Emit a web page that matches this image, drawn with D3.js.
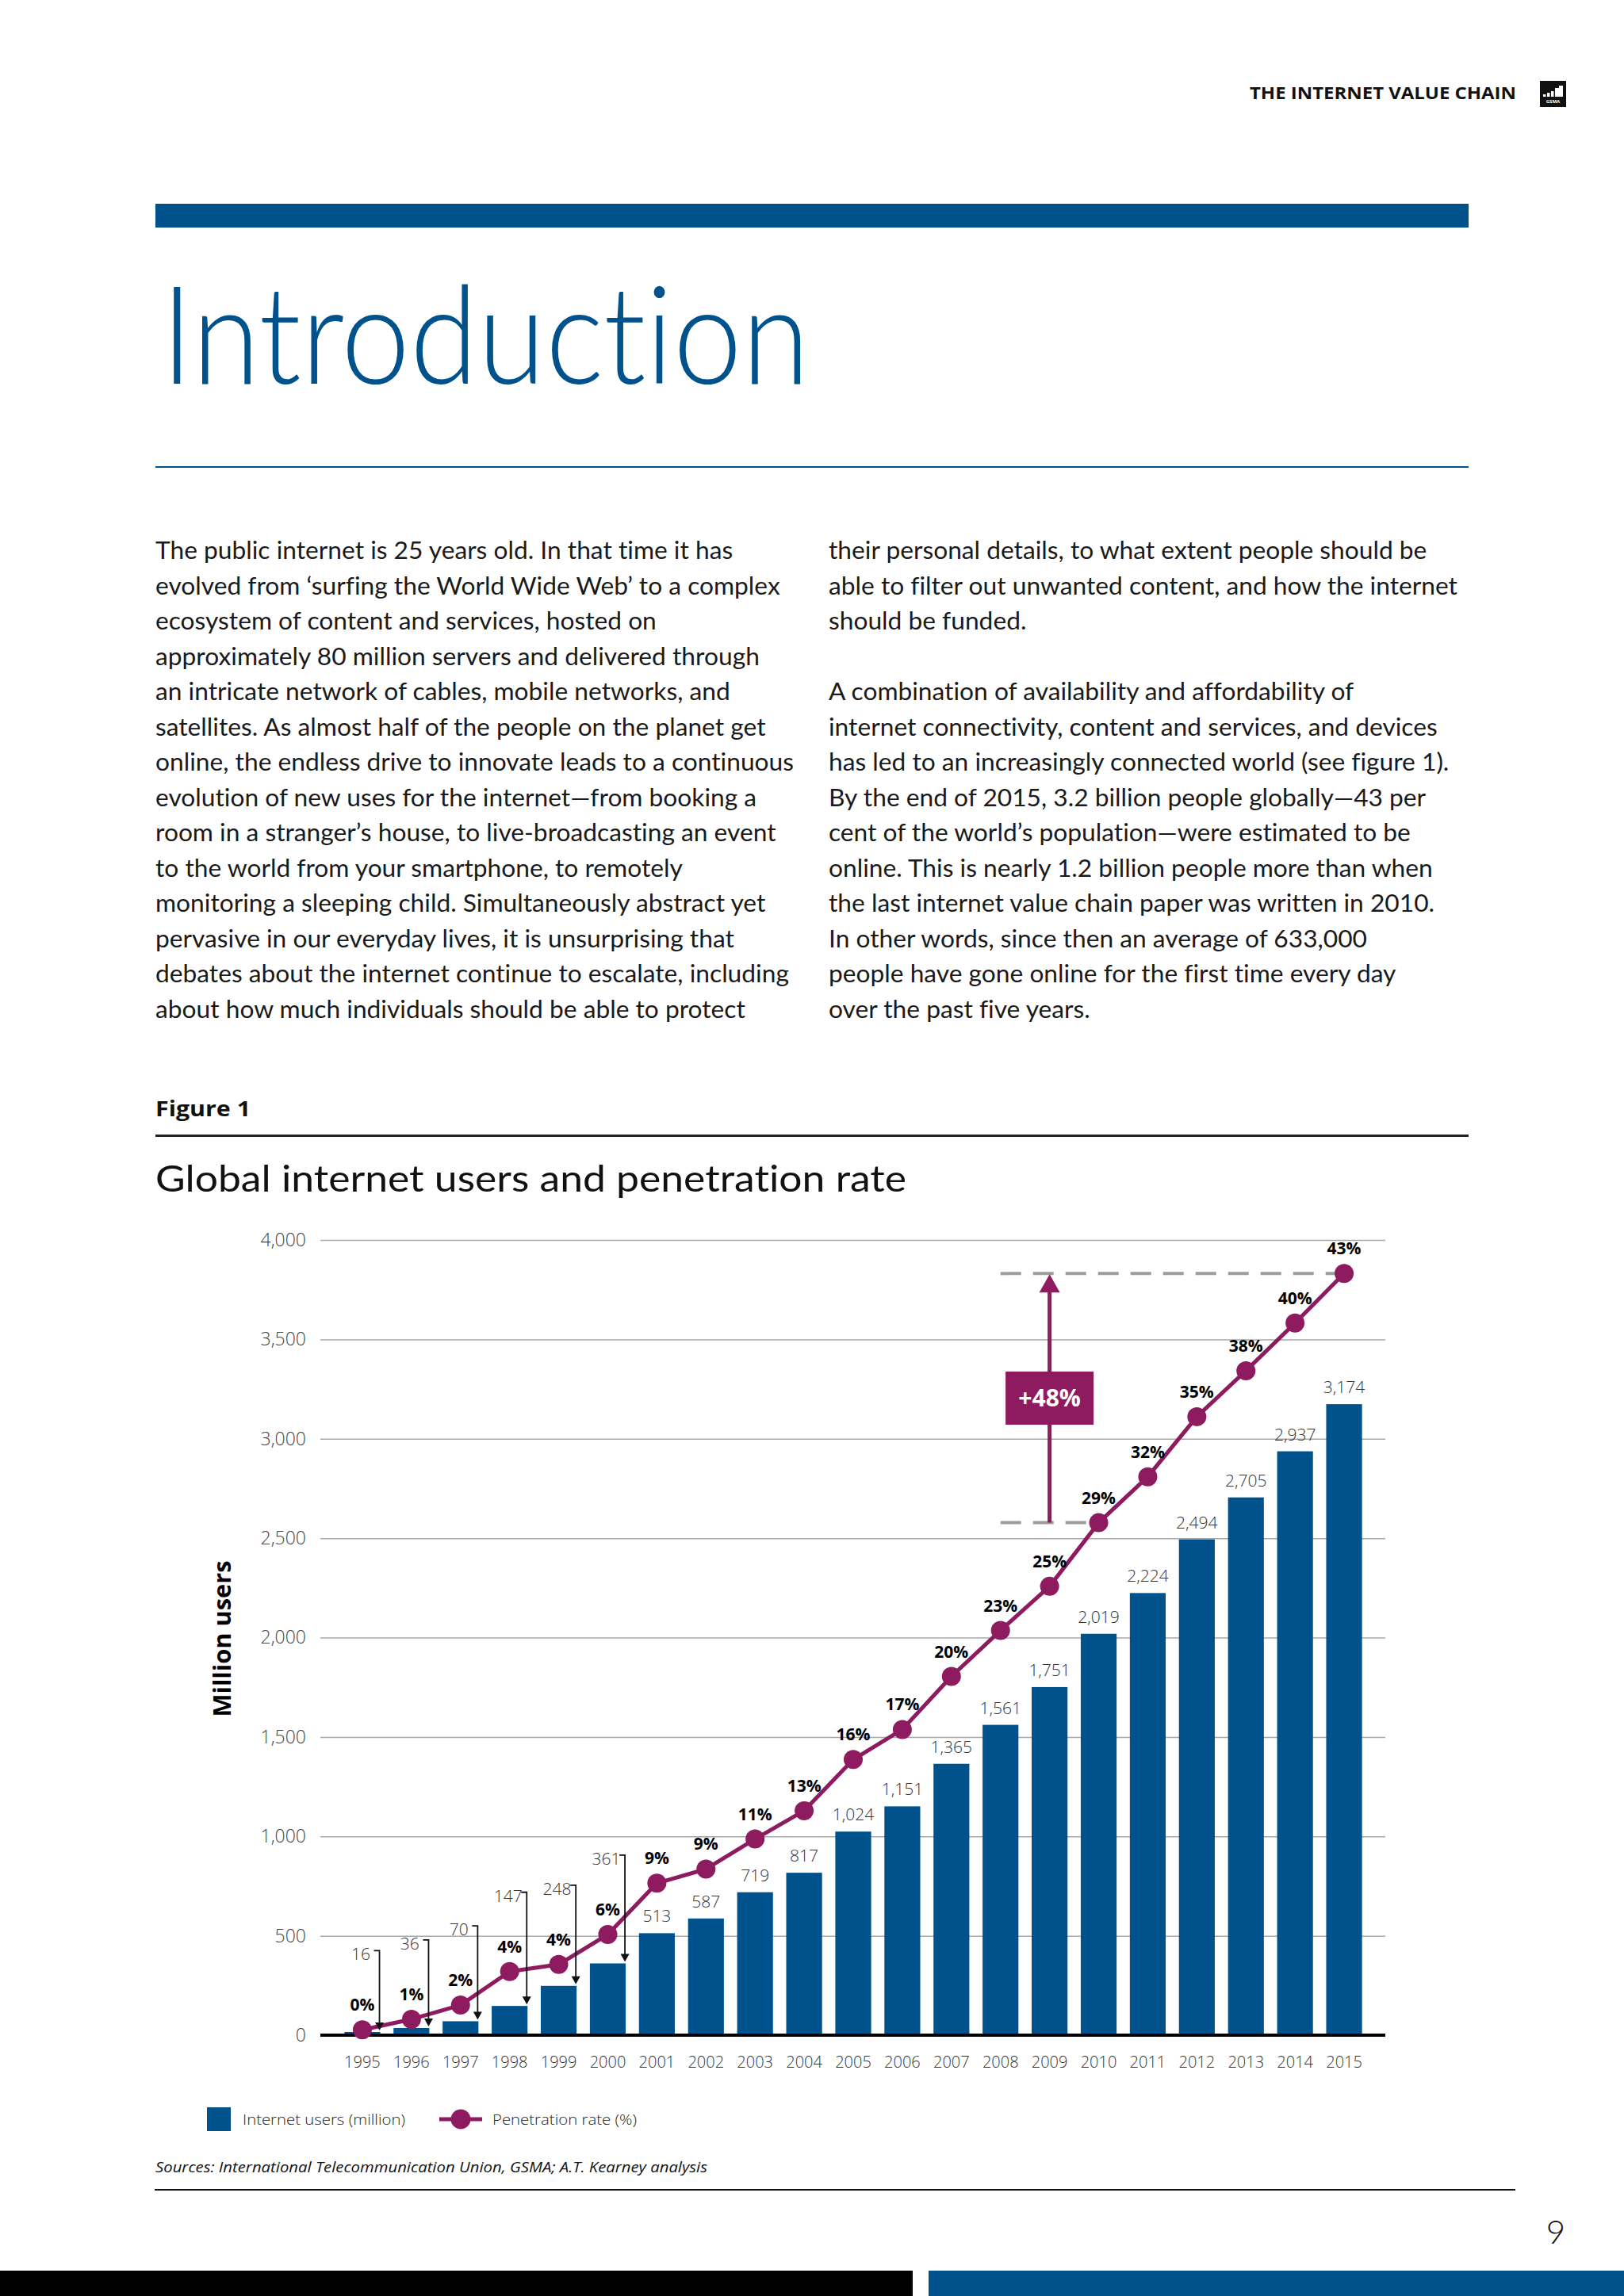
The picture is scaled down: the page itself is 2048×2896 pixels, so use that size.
<!DOCTYPE html>
<html>
<head>
<meta charset="utf-8">
<script src="https://cdnjs.cloudflare.com/ajax/libs/d3/7.8.5/d3.min.js"></script>
<style>
	body { margin: 0; background: #fff; }
	svg { display: block; }
	text { font-family: "Open Sans", sans-serif; font-variant-ligatures: none; }
</style>
</head>
<body>
<svg id="page" width="2048" height="2896"></svg>
<script>
// figure 1 values
var years = ["1995", "1996", "1997", "1998", "1999", "2000", "2001", "2002", "2003", "2004", "2005",
	"2006", "2007", "2008", "2009", "2010", "2011", "2012", "2013", "2014", "2015"];
var users = [16, 36, 70, 147, 248, 361, 513, 587, 719, 817, 1024,
	1151, 1365, 1561, 1751, 2019, 2224, 2494, 2705, 2937, 3174];
var rates = [0.3, 0.9, 1.7, 3.6, 4.0, 5.7, 8.6, 9.4, 11.1, 12.7, 15.6,
	17.3, 20.3, 22.9, 25.4, 29.0, 31.6, 35.0, 37.6, 40.3, 43.1];
var userTicks = [0, 500, 1000, 1500, 2000, 2500, 3000, 3500, 4000];
var calloutYears = ["1995", "1996", "1997", "1998", "1999", "2000"];
var growthFrom = "2010", growthTo = "2015", growthLabel = "+48%";

var leftColumn = [
	"The public internet is 25 years old. In that time it has",
	"evolved from \u2018surfing the World Wide Web\u2019 to a complex",
	"ecosystem of content and services, hosted on",
	"approximately 80 million servers and delivered through",
	"an intricate network of cables, mobile networks, and",
	"satellites. As almost half of the people on the planet get",
	"online, the endless drive to innovate leads to a continuous",
	"evolution of new uses for the internet\u2014from booking a",
	"room in a stranger\u2019s house, to live-broadcasting an event",
	"to the world from your smartphone, to remotely",
	"monitoring a sleeping child. Simultaneously abstract yet",
	"pervasive in our everyday lives, it is unsurprising that",
	"debates about the internet continue to escalate, including",
	"about how much individuals should be able to protect"
];
var rightColumn = [
	"their personal details, to what extent people should be",
	"able to filter out unwanted content, and how the internet",
	"should be funded.",
	"",
	"A combination of availability and affordability of",
	"internet connectivity, content and services, and devices",
	"has led to an increasingly connected world (see figure 1).",
	"By the end of 2015, 3.2 billion people globally\u201443 per",
	"cent of the world\u2019s population\u2014were estimated to be",
	"online. This is nearly 1.2 billion people more than when",
	"the last internet value chain paper was written in 2010.",
	"In other words, since then an average of 633,000",
	"people have gone online for the first time every day",
	"over the past five years."
];

var svg = d3.select("#page");
var blue = "#00528c";
var plum = "#8e1b5f";

drawPage();
drawChart();
drawLegend();

function squeeze (sel, width) {
	sel.attr("textLength", width).attr("lengthAdjust", "spacingAndGlyphs");
}

function drawPage () {
	svg.append("text")
		.attr("x", 1912).attr("y", 125)
		.attr("text-anchor", "end")
		.style("font-size", "22px").style("font-weight", 700)
		.attr("fill", "#111")
		.text("THE INTERNET VALUE CHAIN")
		.call(squeeze, 336);

	// gsma badge
	var logo = svg.append("g").attr("transform", "translate(1942,102)");
	logo.append("rect").attr("width", 33).attr("height", 33).attr("fill", "#111");
	[3, 5, 7, 11, 14].forEach(function (h, i) {
		logo.append("rect")
			.attr("x", 4 + i * 5).attr("y", 20 - h)
			.attr("width", i < 3 ? 3.5 : 5).attr("height", h)
			.attr("fill", "#fff");
	});
	logo.append("text").attr("x", 16.5).attr("y", 27.5).attr("text-anchor", "middle")
		.style("font-size", "6px").style("font-weight", 700).attr("fill", "#fff").text("GSMA");

	svg.append("rect").attr("x", 196).attr("y", 257).attr("width", 1656).attr("height", 30).attr("fill", blue);

	svg.append("text")
		.attr("x", 203).attr("y", 484)
		.style("font-family", "Lato, sans-serif").style("font-weight", 300)
		.style("font-size", "172px")
		.attr("fill", blue)
		.text("Introduction")
		.call(squeeze, 818);

	svg.append("rect").attr("x", 196).attr("y", 588).attr("width", 1656).attr("height", 2).attr("fill", blue);

	var cols = [[leftColumn, 196], [rightColumn, 1045]];
	var texts = [];
	cols.forEach(function (c) {
		svg.append("g").selectAll("text")
			.data(c[0])
			.join("text")
			.attr("x", c[1])
			.attr("y", function (d, i) { return 705 + i * 44.5; })
			.style("font-family", "Lato, sans-serif").style("font-weight", 400)
			.style("font-size", "31px")
			.attr("fill", "#1a1a1a")
			.text(function (d) { return d; })
			.each(function () { texts.push(this); });
	});
	// the print face is narrower than anything installed: scale every line by one factor
	var k = 805 / texts[6].getComputedTextLength();
	texts.forEach(function (n) {
		var w = n.getComputedTextLength();
		if (w > 0) d3.select(n).call(squeeze, w * k);
	});

	svg.append("text")
		.attr("x", 196).attr("y", 1408)
		.style("font-size", "26px").style("font-weight", 700)
		.attr("fill", "#111")
		.text("Figure 1")
		.call(squeeze, 120);
	svg.append("rect").attr("x", 196).attr("y", 1431).attr("width", 1656).attr("height", 3).attr("fill", "#222");

	svg.append("text")
		.attr("x", 196).attr("y", 1503)
		.style("font-family", "Lato, sans-serif").style("font-weight", 400)
		.style("font-size", "46px")
		.attr("fill", "#111")
		.text("Global internet users and penetration rate")
		.call(squeeze, 947);

	svg.append("text")
		.attr("x", 196).attr("y", 2740)
		.style("font-size", "18px").style("font-style", "italic")
		.attr("fill", "#111")
		.text("Sources: International Telecommunication Union, GSMA; A.T. Kearney analysis")
		.call(squeeze, 696);
	svg.append("rect").attr("x", 195).attr("y", 2761).attr("width", 1716).attr("height", 2).attr("fill", "#111");

	svg.append("text")
		.attr("x", 1974).attr("y", 2830).attr("text-anchor", "end")
		.style("font-family", "Lato, sans-serif").style("font-weight", 300)
		.style("font-size", "42px").attr("fill", "#111")
		.text("9");

	svg.append("rect").attr("x", 0).attr("y", 2864).attr("width", 1151).attr("height", 32).attr("fill", "#000");
	svg.append("rect").attr("x", 1171).attr("y", 2864).attr("width", 877).attr("height", 32).attr("fill", blue);
}

function drawChart () {
	var data = years.map(function (yr, i) {
		return { year: yr, users: users[i], rate: rates[i] };
	});
	var x = d3.scaleBand().domain(years).range([426, 1726]).paddingInner(0.27).paddingOuter(0.135);
	var y = d3.scaleLinear().domain([0, 4000]).range([2567, 1564]);
	var y2 = d3.scaleLinear().domain([0, 45]).range([2567, 1564]);
	var bw = x.bandwidth();
	var mid = function (yr) { return x(yr) + bw / 2; };
	var left = 404, right = 1747;

	var gy = svg.append("g")
		.attr("transform", "translate(" + left + ",0)")
		.attr("font-family", null).attr("font-size", null)
		.call(d3.axisLeft(y).tickValues(userTicks).tickSize(-(right - left)).tickPadding(18).tickFormat(d3.format(",")));
	gy.select(".domain").remove();
	gy.selectAll(".tick line").attr("stroke", "#a8a8a8").attr("stroke-width", 1.5);
	gy.selectAll(".tick text").attr("fill", "#444").style("font-size", "23px").style("font-weight", 300);

	svg.append("text")
		.attr("transform", "translate(291,2067) rotate(-90)")
		.attr("text-anchor", "middle")
		.style("font-size", "31px").style("font-weight", 700)
		.attr("fill", "#000")
		.text("Million users")
		.call(squeeze, 197);

	var gx = svg.append("g")
		.attr("transform", "translate(0," + y(0) + ")")
		.attr("font-family", null).attr("font-size", null)
		.call(d3.axisBottom(x).tickSize(0).tickPadding(27));
	gx.select(".domain").remove();
	gx.selectAll(".tick text").attr("fill", "#333").style("font-size", "20px").style("font-weight", 300);

	svg.append("g").selectAll("rect")
		.data(data)
		.join("rect")
		.attr("x", function (d) { return x(d.year); })
		.attr("y", function (d) { return y(d.users); })
		.attr("width", bw)
		.attr("height", function (d) { return y(0) - y(d.users); })
		.attr("fill", blue);

	svg.append("line")
		.attr("x1", left).attr("x2", right)
		.attr("y1", y(0)).attr("y2", y(0))
		.attr("stroke", "#000").attr("stroke-width", 4);

	// growth annotation between 2010 and 2015
	var fromRate = rates[years.indexOf(growthFrom)];
	var toRate = rates[years.indexOf(growthTo)];
	var ax = mid(years[years.indexOf(growthFrom) - 1]);
	var yTop = y2(toRate), yBot = y2(fromRate);
	var ann = svg.append("g");
	ann.append("line")
		.attr("x1", ax - x.step()).attr("x2", mid(growthTo))
		.attr("y1", yTop).attr("y2", yTop);
	ann.append("line")
		.attr("x1", ax - x.step()).attr("x2", mid(growthFrom))
		.attr("y1", yBot).attr("y2", yBot);
	ann.selectAll("line").attr("stroke", "#9d9d9d").attr("stroke-width", 4).attr("stroke-dasharray", "26,15");
	ann.append("line")
		.attr("x1", ax).attr("x2", ax)
		.attr("y1", yBot).attr("y2", yTop + 20)
		.attr("stroke", plum).attr("stroke-width", 5);
	ann.append("path")
		.attr("d", "M" + ax + "," + (yTop + 1) + " L" + (ax + 13) + "," + (yTop + 24) + " L" + (ax - 13) + "," + (yTop + 24) + " Z")
		.attr("fill", plum);
	var boxY = (yTop + yBot) / 2;
	ann.append("rect")
		.attr("x", ax - 55.5).attr("y", boxY - 33.5)
		.attr("width", 111).attr("height", 67)
		.attr("fill", plum);
	ann.append("text")
		.attr("x", ax).attr("y", boxY + 11)
		.attr("text-anchor", "middle")
		.style("font-size", "30px").style("font-weight", 700)
		.attr("fill", "#fff")
		.text(growthLabel);

	var line = d3.line()
		.x(function (d) { return mid(d.year); })
		.y(function (d) { return y2(d.rate); });
	svg.append("path")
		.datum(data)
		.attr("d", line)
		.attr("fill", "none")
		.attr("stroke", plum)
		.attr("stroke-width", 5)
		.attr("stroke-linejoin", "round");
	svg.append("g").selectAll("circle")
		.data(data)
		.join("circle")
		.attr("cx", function (d) { return mid(d.year); })
		.attr("cy", function (d) { return y2(d.rate); })
		.attr("r", 12)
		.attr("fill", plum);

	svg.append("g").selectAll("text")
		.data(data)
		.join("text")
		.attr("x", function (d) { return mid(d.year); })
		.attr("y", function (d) { return y2(d.rate) - 24; })
		.attr("text-anchor", "middle")
		.style("font-size", "21px").style("font-weight", 700)
		.attr("fill", "#000")
		.text(function (d) { return Math.round(d.rate) + "%"; });

	// value labels: plain ones sit on the bar, the small early ones get a bracket arrow
	var plain = data.filter(function (d) { return calloutYears.indexOf(d.year) < 0; });
	var called = data.filter(function (d) { return calloutYears.indexOf(d.year) >= 0; });
	var fmt = d3.format(",");

	svg.append("g").selectAll("text")
		.data(plain)
		.join("text")
		.attr("x", function (d) { return mid(d.year); })
		.attr("y", function (d) { return y(d.users) - 14; })
		.attr("text-anchor", "middle")
		.style("font-size", "21px").style("font-weight", 300)
		.attr("fill", "#333")
		.text(function (d) { return fmt(d.users); });

	var co = svg.append("g").selectAll("g")
		.data(called)
		.join("g");
	co.append("text")
		.attr("x", function (d) { return mid(d.year) - 2; })
		.attr("y", function (d) { return y2(d.rate) - 95 + 7; })
		.attr("text-anchor", "middle")
		.style("font-size", "21px").style("font-weight", 300)
		.attr("fill", "#333")
		.text(function (d) { return fmt(d.users); });
	co.append("path")
		.attr("d", function (d) {
			var r = x(d.year) + bw - 1;
			var ly = y2(d.rate) - 95 - 5;
			return "M" + (r - 7) + "," + ly + " H" + r + " V" + (y(d.users) - 10);
		})
		.attr("fill", "none")
		.attr("stroke", "#111")
		.attr("stroke-width", 1.8);
	co.append("path")
		.attr("d", function (d) {
			var r = x(d.year) + bw - 1;
			var t = y(d.users) - 2;
			return "M" + r + "," + t + " L" + (r - 5.5) + "," + (t - 10) + " L" + (r + 5.5) + "," + (t - 10) + " Z";
		})
		.attr("fill", "#111");
}

function drawLegend () {
	var g = svg.append("g").attr("transform", "translate(0,2673)");
	g.append("rect").attr("x", 261).attr("y", -15).attr("width", 30).attr("height", 30).attr("fill", blue);
	g.append("text").attr("x", 306).attr("y", 7)
		.style("font-size", "19px").style("font-weight", 300).attr("fill", "#222")
		.text("Internet users (million)")
		.call(squeeze, 205);
	g.append("line").attr("x1", 554).attr("x2", 608).attr("y1", 0).attr("y2", 0)
		.attr("stroke", plum).attr("stroke-width", 5);
	g.append("circle").attr("cx", 581).attr("cy", 0).attr("r", 12.5).attr("fill", plum);
	g.append("text").attr("x", 621).attr("y", 7)
		.style("font-size", "19px").style("font-weight", 300).attr("fill", "#222")
		.text("Penetration rate (%)")
		.call(squeeze, 182);
}
</script>
</body>
</html>
